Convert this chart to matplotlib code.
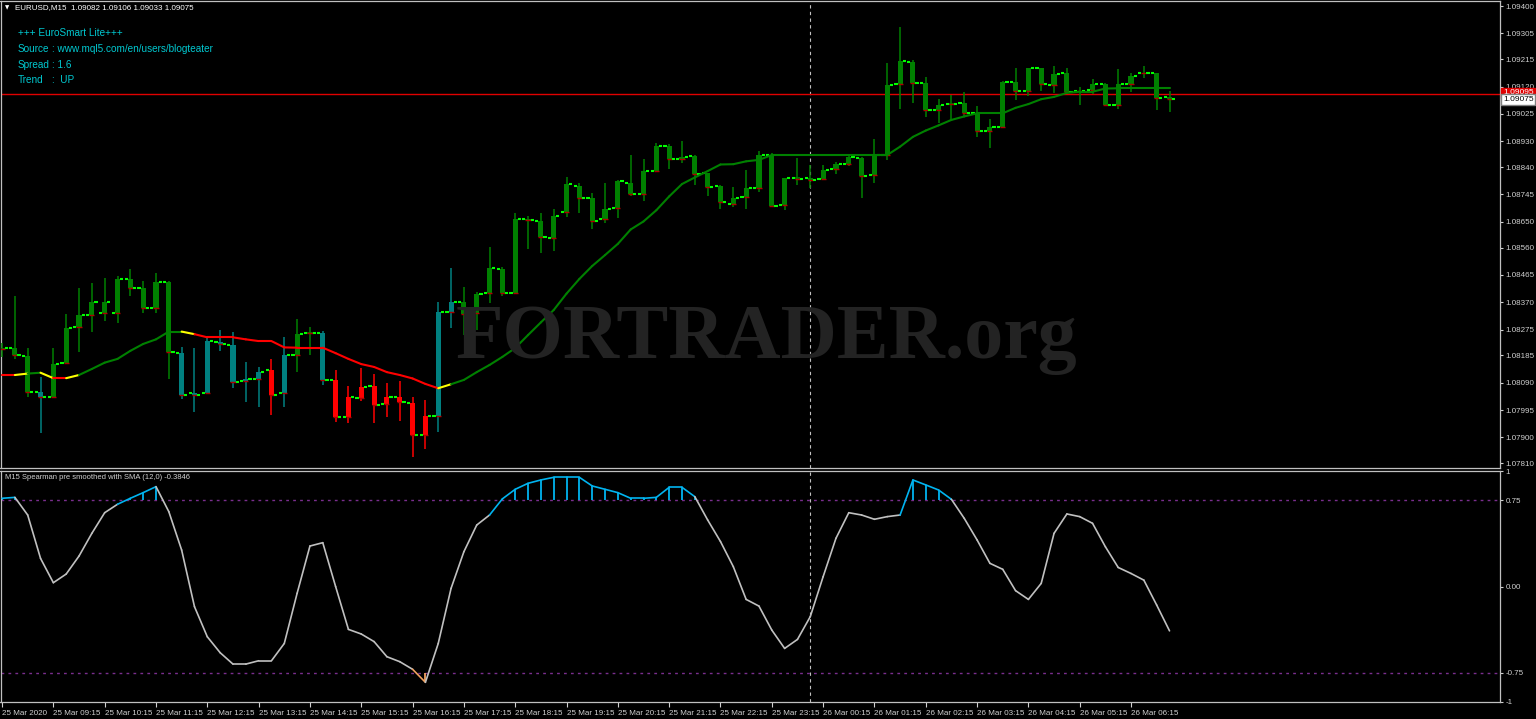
import matplotlib
matplotlib.use("Agg")
import matplotlib.pyplot as plt

# ---------------- data ----------------
opens = [1.08207, 1.08211, 1.08184, 1.08059, 1.08042, 1.08160, 1.08285, 1.08324, 1.08333, 1.08332,
         1.08450, 1.08421, 1.08349, 1.08442, 1.08195, 1.08053, 1.08055, 1.08233, 1.08221, 1.08097,
         1.08102, 1.08135, 1.08053, 1.08187, 1.08262, 1.08262, 1.08100, 1.07972, 1.08038, 1.08079,
         1.08016, 1.08039, 1.08021, 1.07910, 1.07974, 1.08337, 1.08370, 1.08334, 1.08401, 1.08484,
         1.08401, 1.08658, 1.08653, 1.08593, 1.08683, 1.08775, 1.08734, 1.08658, 1.08699, 1.08784,
         1.08746, 1.08827, 1.08913, 1.08867, 1.08880, 1.08818, 1.08774, 1.08712, 1.08737, 1.08766,
         1.08882, 1.08708, 1.08801, 1.08803, 1.08799, 1.08833, 1.08850, 1.08873, 1.08812, 1.08882,
         1.09129, 1.09204, 1.09133, 1.09038, 1.09059, 1.09062, 1.09029, 1.08966, 1.08978, 1.09137,
         1.09105, 1.09183, 1.09125, 1.09166, 1.09105, 1.09108, 1.09129, 1.09056, 1.09129, 1.09168,
         1.09166, 1.09082]
highs = [1.08228, 1.08392, 1.08210, 1.08111, 1.08210, 1.08329, 1.08418, 1.08438, 1.08455, 1.08461,
         1.08484, 1.08445, 1.08471, 1.08445, 1.08213, 1.08212, 1.08253, 1.08274, 1.08268, 1.08163,
         1.08146, 1.08171, 1.08248, 1.08311, 1.08285, 1.08270, 1.08135, 1.08079, 1.08141, 1.08120,
         1.08088, 1.08097, 1.08042, 1.08030, 1.08372, 1.08488, 1.08424, 1.08407, 1.08563, 1.08494,
         1.08681, 1.08670, 1.08681, 1.08693, 1.08806, 1.08786, 1.08751, 1.08786, 1.08795, 1.08882,
         1.08867, 1.08923, 1.08920, 1.08932, 1.08882, 1.08821, 1.08778, 1.08770, 1.08830, 1.08897,
         1.08890, 1.08803, 1.08871, 1.08847, 1.08847, 1.08856, 1.08879, 1.08876, 1.08937, 1.09203,
         1.09328, 1.09212, 1.09152, 1.09076, 1.09091, 1.09102, 1.09052, 1.09006, 1.09139, 1.09183,
         1.09185, 1.09185, 1.09191, 1.09183, 1.09119, 1.09145, 1.09133, 1.09180, 1.09168, 1.09191,
         1.09168, 1.09106]
lows = [1.08180, 1.08173, 1.08042, 1.07914, 1.08036, 1.08154, 1.08198, 1.08268, 1.08305, 1.08297,
        1.08392, 1.08334, 1.08331, 1.08102, 1.08033, 1.07987, 1.08051, 1.08201, 1.08071, 1.08024,
        1.08007, 1.07978, 1.08005, 1.08129, 1.08187, 1.08083, 1.07955, 1.07951, 1.08028, 1.07949,
        1.07972, 1.07958, 1.07833, 1.07859, 1.07920, 1.08279, 1.08256, 1.08274, 1.08368, 1.08392,
        1.08399, 1.08554, 1.08542, 1.08549, 1.08666, 1.08681, 1.08624, 1.08647, 1.08662, 1.08739,
        1.08722, 1.08824, 1.08834, 1.08853, 1.08778, 1.08741, 1.08693, 1.08701, 1.08693, 1.08754,
        1.08701, 1.08691, 1.08778, 1.08766, 1.08795, 1.08815, 1.08844, 1.08732, 1.08786, 1.08865,
        1.09041, 1.09062, 1.09013, 1.08994, 1.09004, 1.09018, 1.08946, 1.08907, 1.08975, 1.09073,
        1.09087, 1.09105, 1.09098, 1.09098, 1.09056, 1.09094, 1.09052, 1.09041, 1.09102, 1.09149,
        1.09038, 1.09033]
closes = [1.08211, 1.08187, 1.08059, 1.08042, 1.08154, 1.08279, 1.08324, 1.08372, 1.08372, 1.08450,
          1.08418, 1.08349, 1.08442, 1.08198, 1.08047, 1.08046, 1.08235, 1.08224, 1.08094, 1.08103,
          1.08129, 1.08047, 1.08187, 1.08259, 1.08262, 1.08100, 1.07972, 1.08039, 1.08075, 1.08013,
          1.08039, 1.08022, 1.07910, 1.07974, 1.08337, 1.08372, 1.08329, 1.08399, 1.08488, 1.08403,
          1.08658, 1.08656, 1.08596, 1.08671, 1.08780, 1.08732, 1.08652, 1.08694, 1.08792, 1.08745,
          1.08826, 1.08913, 1.08867, 1.08876, 1.08815, 1.08772, 1.08718, 1.08734, 1.08766, 1.08882,
          1.08705, 1.08801, 1.08800, 1.08795, 1.08830, 1.08850, 1.08876, 1.08809, 1.08882, 1.09125,
          1.09209, 1.09133, 1.09038, 1.09056, 1.09058, 1.09027, 1.08966, 1.08978, 1.09137, 1.09105,
          1.09183, 1.09128, 1.09164, 1.09102, 1.09104, 1.09128, 1.09056, 1.09129, 1.09157, 1.09167,
          1.09079, 1.09075]
# trend colour of each candle: U = up (green), F = flat (teal), D = down (red)
candle_state = ("UUUFUUUUUUUUUUFFFFFFFDFUUFDDDDDDDDFF"
                "UUUUUUUUUUUUUUUUUUUUUUUUUUUUUUUUUUUUUUUUUUUUUUUUUUUUUUUU")
ma_values = [1.08117, 1.08117, 1.08122, 1.08125, 1.08106, 1.08106, 1.08117, 1.08138, 1.08160, 1.08173,
             1.08201, 1.08225, 1.08241, 1.08268, 1.08268, 1.08259, 1.08248, 1.08248, 1.08248, 1.08241,
             1.08235, 1.08235, 1.08213, 1.08212, 1.08212, 1.08212, 1.08193, 1.08173, 1.08155, 1.08145,
             1.08127, 1.08117, 1.08105, 1.08086, 1.08071, 1.08085, 1.08100, 1.08127, 1.08152, 1.08180,
             1.08211, 1.08256, 1.08300, 1.08343, 1.08400, 1.08451, 1.08496, 1.08534, 1.08573, 1.08623,
             1.08651, 1.08690, 1.08738, 1.08781, 1.08804, 1.08826, 1.08849, 1.08850, 1.08860, 1.08865,
             1.08882, 1.08882, 1.08882, 1.08882, 1.08882, 1.08882, 1.08882, 1.08882, 1.08882, 1.08882,
             1.08911, 1.08945, 1.08967, 1.08985, 1.09004, 1.09016, 1.09027, 1.09027, 1.09027, 1.09046,
             1.09059, 1.09076, 1.09084, 1.09098, 1.09102, 1.09102, 1.09113, 1.09114, 1.09114, 1.09114,
             1.09114, 1.09114]
ma_state = ("RRYGYRYGGGGGGGGYRRRRRRRRRRRRRRRRRRRY"
            "GGGGGGGGGGGGGGGGGGGGGGGGGGGGGGGGGGGGGGGGGGGGGGGGGGGGGGGG")
spearman = [0.765, 0.773, 0.62, 0.244, 0.033, 0.108, 0.264, 0.461, 0.64, 0.713,
            0.765, 0.814, 0.866, 0.649, 0.316, -0.175, -0.436, -0.574, -0.673, -0.673,
            -0.644, -0.644, -0.494, -0.059, 0.351, 0.38, 0.0, -0.372, -0.412, -0.478,
            -0.609, -0.652, -0.718, -0.831, -0.494, -0.016, 0.302, 0.533, 0.62, 0.76,
            0.843, 0.895, 0.924, 0.947, 0.947, 0.947, 0.872, 0.843, 0.814, 0.765,
            0.765, 0.773, 0.86, 0.86, 0.779, 0.577, 0.39, 0.172, -0.112, -0.17,
            -0.378, -0.537, -0.459, -0.261, 0.085, 0.418, 0.64, 0.62, 0.583, 0.606,
            0.62, 0.924, 0.881, 0.837, 0.756, 0.591, 0.404, 0.201, 0.149, -0.036,
            -0.112, 0.027, 0.461, 0.629, 0.606, 0.548, 0.345, 0.165, 0.113, 0.055,
            -0.161, -0.3846]
spearman_levels = [0.75, -0.75]
price_ticks = [1.09400, 1.09305, 1.09215, 1.09120, 1.09025, 1.08930, 1.08840, 1.08745, 1.08650,
               1.08560, 1.08465, 1.08370, 1.08275, 1.08185, 1.08090, 1.07995, 1.07900, 1.07810]
ind_ticks = [1, 0.75, 0.0, -0.75, -1]
ind_tick_labels = ["1", "0.75", "0.00", "-0.75", "-1"]
time_labels = ["25 Mar 2020", "25 Mar 09:15", "25 Mar 10:15", "25 Mar 11:15", "25 Mar 12:15",
               "25 Mar 13:15", "25 Mar 14:15", "25 Mar 15:15", "25 Mar 16:15", "25 Mar 17:15",
               "25 Mar 18:15", "25 Mar 19:15", "25 Mar 20:15", "25 Mar 21:15", "25 Mar 22:15",
               "25 Mar 23:15", "26 Mar 00:15", "26 Mar 01:15", "26 Mar 02:15", "26 Mar 03:15",
               "26 Mar 04:15", "26 Mar 05:15", "26 Mar 06:15"]
bars_per_label = 4
level_line_price = 1.09095
bid_price = 1.09075
crosshair_bar = 63
header = "EURUSD,M15  1.09082 1.09106 1.09033 1.09075"
info_labels = ["Source", "Spread", "Trend"]
info_values = [": www.mql5.com/en/users/blogteater", ": 1.6", ":  UP"]
ind_title = "M15 Spearman pre smoothed with SMA (12,0) -0.3846"

# ---------------- styling ----------------
W, H = 1536, 719
BG = "black"
FG = "#d0d0d0"
CANDLE_COL = {"U": "#008000", "F": "#008080", "D": "#ff0000"}
MA_COL = {"G": "#008000", "Y": "#ffff00", "R": "#ff0000"}
TXT_FONT = "Liberation Sans"

fig = plt.figure(figsize=(W / 100, H / 100), dpi=100, facecolor=BG)


def px_box(x0, y0, x1, y1):
    return [x0 / W, 1 - y1 / H, (x1 - x0) / W, (y1 - y0) / H]


ax = fig.add_axes(px_box(0.5, 1, 1500, 468))
ax2 = fig.add_axes(px_box(0.5, 471, 1500, 702))
for a in (ax, ax2):
    a.set_facecolor(BG)
    for s in a.spines.values():
        s.set_color("#c0c0c0")
        s.set_linewidth(0.9)
    a.set_xlim(-0.12, 116.76)

n = len(closes)
xs = list(range(n))

# main panel -------------------------------------------------------------
ax.set_ylim(1.077937, 1.094174)
bw = 0.40
for i in xs:
    o, h, l, c = opens[i], highs[i], lows[i], closes[i]
    col = CANDLE_COL[candle_state[i]]
    ax.vlines(i, l, h, color=col, lw=1.1, zorder=3)
    lo, hi = min(o, c), max(o, c)
    if hi - lo > 0.00001:
        ax.bar(i, hi - lo, bottom=lo, width=bw, color=col, lw=0, zorder=4)
    else:
        ax.hlines(o, i - bw / 2, i + bw / 2, color=col, lw=1.2, zorder=4)
    ax.hlines(lo, i - bw / 2, i + bw / 2, color="#b00000", lw=1.0, zorder=5)
    ax.hlines(o, i - bw / 2 - 0.25, i - bw / 2, color="#00ff00", lw=1.5, zorder=5)
    ax.hlines(c, i + bw / 2, i + bw / 2 + 0.25, color="#00ff00", lw=1.5, zorder=5)

for i in range(1, n):
    ax.plot([i - 1, i], [ma_values[i - 1], ma_values[i]], color=MA_COL[ma_state[i]],
            lw=1.5, solid_capstyle="round", zorder=6)

ax.axhline(level_line_price, color="#e00000", lw=1.0, zorder=2)
ax.axvline(crosshair_bar, color="#c0c0c0", lw=0.8, ls=(0, (3, 3)), zorder=1)

ax.yaxis.tick_right()
ax.set_yticks(price_ticks)
ax.set_yticklabels([f"{v:.5f}" for v in price_ticks])
ax.tick_params(axis="y", length=2.5, width=0.8, colors=FG, labelsize=5.8, pad=1.5,
               direction="out")
for t in ax.get_yticklabels():
    t.set_fontfamily(TXT_FONT)
ax.set_xticks([])

# price boxes on the axis
ax.annotate(f"{level_line_price:.5f}", xy=(1.0, level_line_price), xycoords=("axes fraction", "data"),
            xytext=(3, 1), textcoords="offset pixels", ha="left", va="center",
            fontsize=6.0, family=TXT_FONT, color="white", annotation_clip=False,
            bbox=dict(boxstyle="square,pad=0.2", fc="#e00000", ec="#e00000"), zorder=10)
ax.annotate(f"{bid_price:.5f}", xy=(1.0, bid_price), xycoords=("axes fraction", "data"),
            xytext=(3, 0), textcoords="offset pixels", ha="left", va="center",
            fontsize=6.0, family=TXT_FONT, color="black", annotation_clip=False,
            bbox=dict(boxstyle="square,pad=0.2", fc="white", ec="#808080"), zorder=11)

# watermark
fig.text(766 / W, 1 - 358 / H, "FORTRADER.org", ha="center", va="baseline",
         fontsize=56, family="Liberation Serif", fontweight="bold", color="#232323", zorder=0)

# texts
fig.text(5 / W, 1 - 7.5 / H, "\u25bc", fontsize=4, color="white", va="center", family="DejaVu Sans")
fig.text(15 / W, 1 - 7.5 / H, header, fontsize=5.8, color="white", va="center", family=TXT_FONT)
CYAN = "#00c8d0"
fig.text(18 / W, 1 - 33 / H, "+++ EuroSmart Lite+++", fontsize=7.2, color=CYAN, va="center",
         family=TXT_FONT)
for k, (lab, val) in enumerate(zip(info_labels, info_values)):
    yy = 49 + k * 15.7
    fig.text(18 / W, 1 - yy / H, lab, fontsize=7.2, color=CYAN, va="center", family=TXT_FONT)
    fig.text(52 / W, 1 - yy / H, val, fontsize=7.2, color=CYAN, va="center", family=TXT_FONT)

# indicator panel -------------------------------------------------------
ax2.set_ylim(-1.0017, 1.0017)
for lv in spearman_levels:
    ax2.axhline(lv, color="#7a2e8e", lw=1.0, ls=(0, (2, 3)), zorder=1)
ax2.axvline(crosshair_bar, color="#c0c0c0", lw=0.8, ls=(0, (3, 3)), zorder=1)

up_lv, dn_lv = spearman_levels
for i in range(1, n):
    v = spearman[i]
    if v > up_lv:
        col = "#00b4f0"
    elif v < dn_lv:
        col = "#f0a060"
    else:
        col = "#c0c0c0"
    ax2.plot([i - 1, i], [spearman[i - 1], v], color=col, lw=1.2, zorder=3,
             solid_capstyle="round")
for i in xs:
    v = spearman[i]
    if v > up_lv:
        ax2.vlines(i, up_lv, v, color="#00b4f0", lw=1.3, zorder=2)
    elif v < dn_lv:
        ax2.vlines(i, v, dn_lv, color="#f0a060", lw=1.3, zorder=2)

ax2.yaxis.tick_right()
ax2.set_yticks(ind_ticks)
ax2.set_yticklabels(ind_tick_labels)
ax2.tick_params(axis="y", length=2.5, width=0.8, colors=FG, labelsize=5.8, pad=1.5,
                direction="out")
for t in ax2.get_yticklabels():
    t.set_fontfamily(TXT_FONT)

time_ticks = [k * bars_per_label for k in range(len(time_labels))]
ax2.set_xticks(time_ticks)
ax2.set_xticklabels(time_labels, ha="left")
ax2.tick_params(axis="x", length=3.5, width=0.8, colors=FG, labelsize=5.8, pad=2,
                direction="out")
for t in ax2.get_xticklabels():
    t.set_fontfamily(TXT_FONT)

fig.text(5 / W, 1 - 477.5 / H, ind_title, fontsize=5.5, color=FG, va="center", family=TXT_FONT)

fig.savefig("out.png", dpi=100, facecolor=BG)
